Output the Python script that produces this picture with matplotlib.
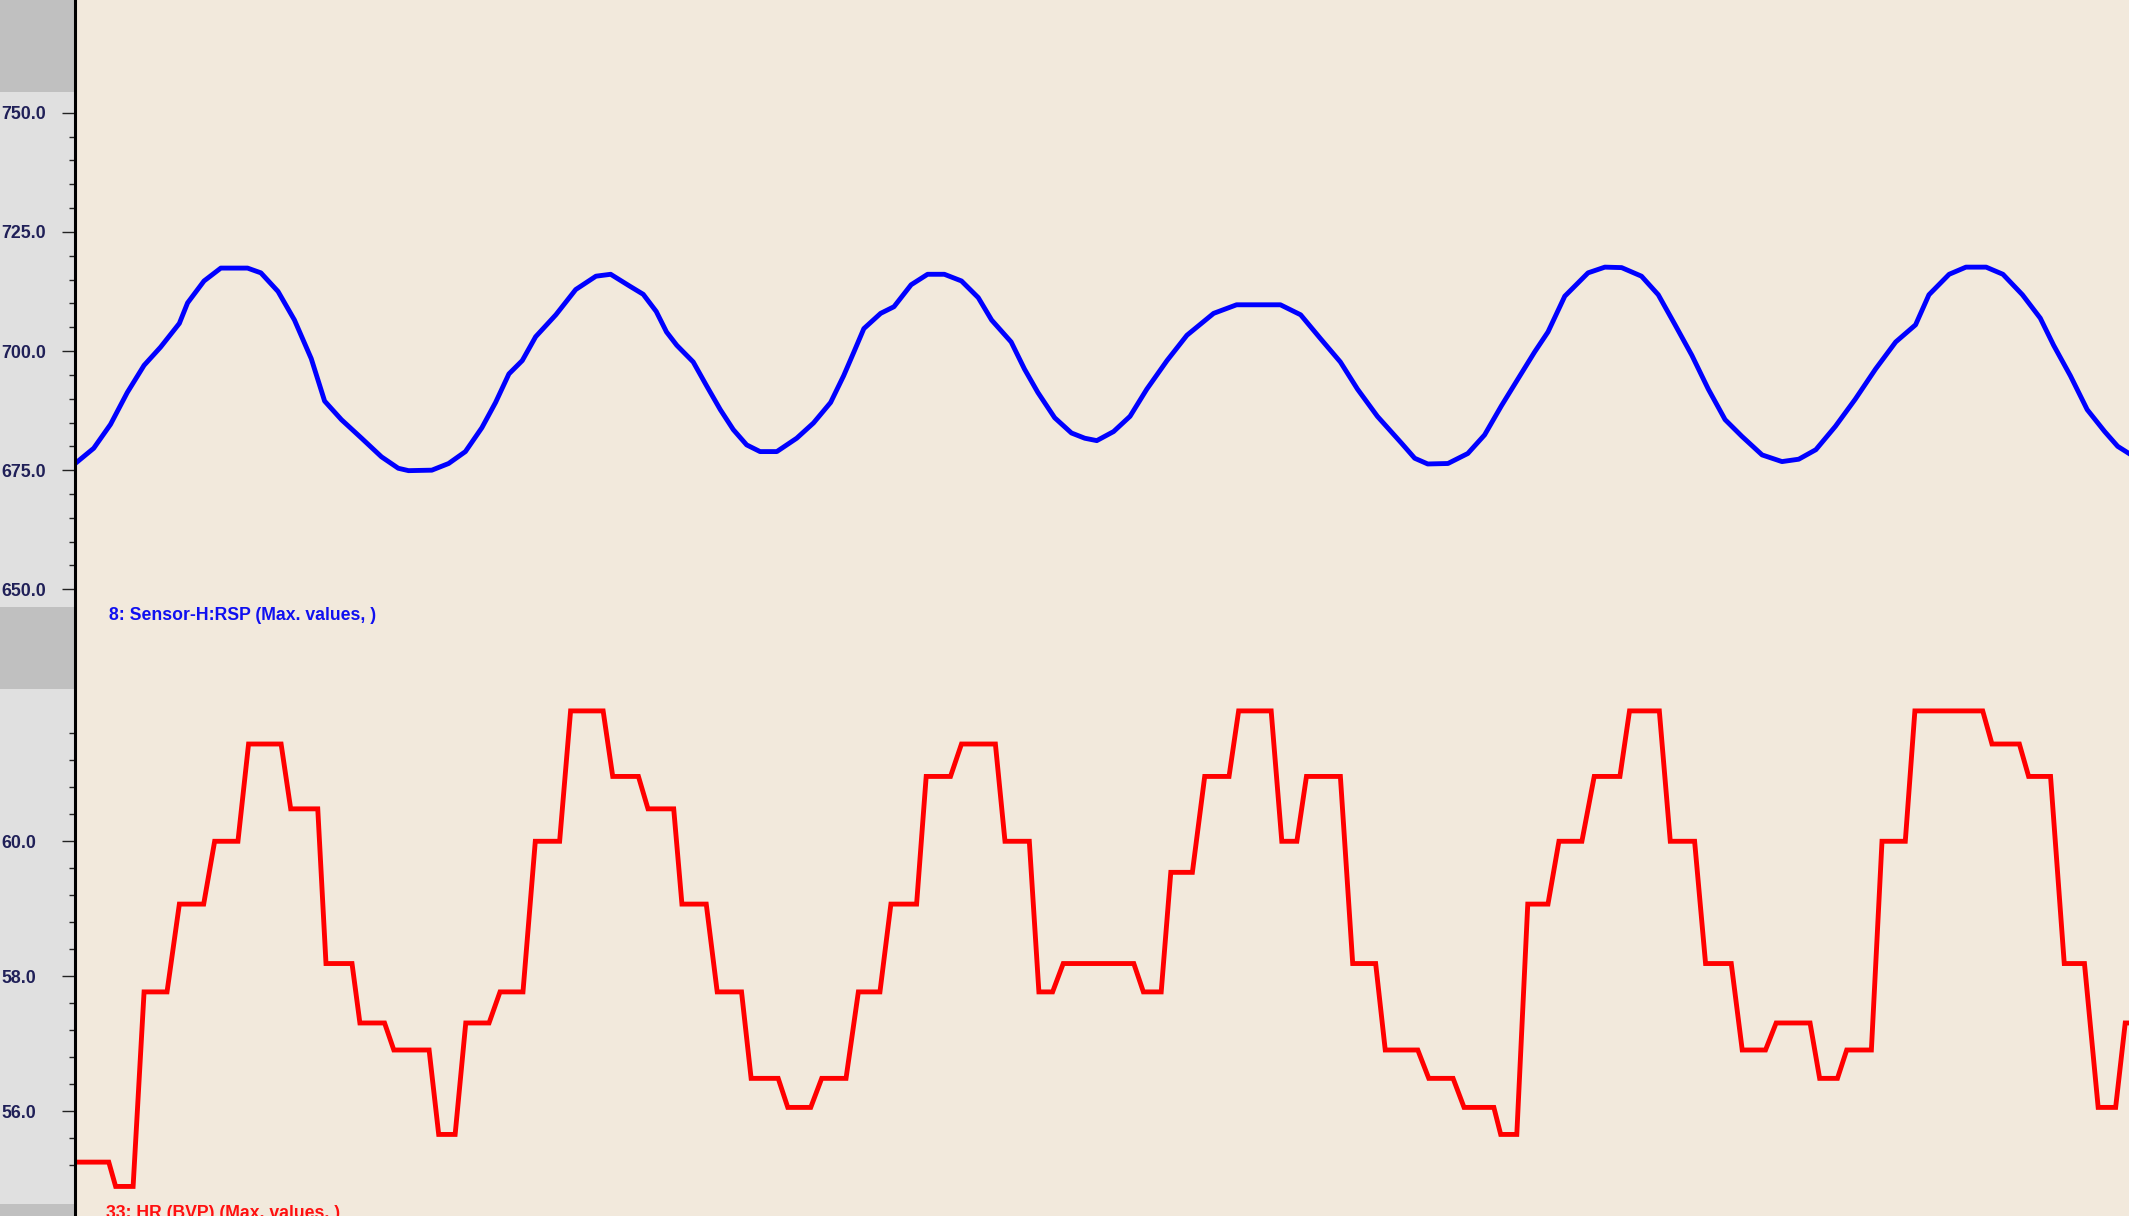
import matplotlib
matplotlib.use("Agg")
import matplotlib.pyplot as plt
import numpy as np
from matplotlib.patches import Rectangle
from matplotlib.lines import Line2D
from matplotlib.transforms import blended_transform_factory

plt.rcParams['font.family'] = ['Liberation Sans', 'DejaVu Sans']

# ---------------- data ----------------
# Respiration sensor (RSP), time in seconds
rsp_t = [0.0, 0.59, 1.08, 1.57, 2.06, 2.54, 3.09, 3.33, 3.81, 4.30,
         5.08, 5.47, 5.97, 6.45, 6.94, 7.33, 7.82, 8.41, 8.99, 9.48,
         9.78, 10.46, 10.95, 11.44, 11.92, 12.32, 12.71, 13.10, 13.49, 14.08,
         14.66, 15.25, 15.68, 16.24, 16.63, 17.01, 17.31, 17.61, 18.09, 18.48,
         18.88, 19.26, 19.65, 20.04, 20.53, 21.11, 21.60, 22.10, 22.48, 22.78,
         23.07, 23.56, 23.95, 24.45, 24.93, 25.42, 25.92, 26.41, 26.80, 27.37,
         27.76, 28.15, 28.64, 29.13, 29.52, 29.87, 30.36, 30.84, 31.33, 31.92,
         32.50, 33.28, 33.95, 35.23, 35.82, 36.40, 36.98, 37.48, 38.06, 38.76,
         39.15, 39.53, 40.12, 40.70, 41.19, 41.68, 42.16, 42.65, 43.04, 43.53,
         44.21, 44.70, 45.19, 45.77, 46.26, 46.75, 47.24, 47.72, 48.21, 48.70,
         49.29, 49.87, 50.36, 50.86, 51.43, 52.01, 52.60, 53.19, 53.77, 54.16,
         54.75, 55.24, 55.83, 56.32, 56.89, 57.41, 57.80, 58.29, 58.78, 59.29,
         59.67, 60.0]
rsp_v = [676.1, 679.6, 684.6, 691.3, 697.0, 700.8, 705.8, 710.1, 714.7, 717.4,
         717.4, 716.4, 712.5, 706.5, 698.4, 689.5, 685.6, 681.7, 677.8, 675.4,
         674.9, 675.0, 676.4, 678.9, 683.9, 689.2, 695.2, 698.0, 703.0, 707.6,
         712.9, 715.7, 716.1, 713.6, 711.9, 708.3, 704.0, 701.2, 697.7, 692.7,
         687.7, 683.5, 680.3, 678.9, 678.9, 681.7, 684.9, 689.2, 694.8, 699.8,
         704.7, 707.9, 709.3, 713.9, 716.1, 716.1, 714.7, 711.2, 706.5, 701.9,
         696.2, 691.3, 686.0, 682.8, 681.7, 681.2, 683.1, 686.3, 692.0, 698.0,
         703.3, 707.9, 709.7, 709.7, 707.6, 702.6, 697.7, 692.0, 686.3, 680.7,
         677.5, 676.3, 676.4, 678.5, 682.4, 688.5, 694.1, 699.8, 704.0, 711.5,
         716.4, 717.6, 717.5, 715.7, 711.8, 705.5, 699.1, 692.0, 685.6, 682.1,
         678.2, 676.8, 677.3, 679.3, 684.2, 689.9, 696.2, 701.9, 705.5, 711.8,
         716.1, 717.6, 717.6, 716.1, 711.8, 706.9, 701.2, 694.8, 687.7, 683.1,
         680.0, 678.5]

# Heart rate (BVP): held levels (start time, end time, value)
hr_start = [0.0, 1.23, 2.06, 3.09, 4.12, 5.11, 6.34, 7.37, 8.36, 9.35,
            10.66, 11.45, 12.45, 13.48, 14.51, 15.74, 16.77, 17.76, 18.79, 19.78,
            20.85, 21.84, 22.91, 23.86, 24.89, 25.92, 27.19, 28.18, 28.89, 31.23,
            32.03, 33.02, 34.01, 35.27, 35.99, 37.34, 38.29, 39.56, 40.59, 41.66,
            42.45, 43.36, 44.39, 45.42, 46.61, 47.64, 48.71, 49.70, 50.97, 51.76,
            52.79, 53.75, 56.00, 57.07, 58.11, 59.10, 59.89]
hr_end = [1.03, 1.74, 2.73, 3.80, 4.80, 6.06, 7.13, 8.13, 9.08, 10.38,
          11.14, 12.13, 13.12, 14.19, 15.46, 16.49, 17.52, 18.47, 19.50, 20.57,
          21.52, 22.55, 23.54, 24.61, 25.60, 26.91, 27.90, 28.58, 30.95, 31.75,
          32.66, 33.73, 34.96, 35.71, 36.98, 38.01, 39.24, 40.27, 41.46, 42.13,
          43.04, 44.03, 45.14, 46.29, 47.32, 48.39, 49.39, 50.69, 51.49, 52.48,
          53.47, 55.73, 56.80, 57.71, 58.70, 59.61, 60.0]
hr_val = [55.25, 54.89, 57.77, 59.07, 60.00, 61.44, 60.48, 58.19, 57.31, 56.91,
          55.66, 57.31, 57.77, 60.00, 61.93, 60.96, 60.48, 59.07, 57.77, 56.49,
          56.06, 56.49, 57.77, 59.07, 60.96, 61.44, 60.00, 57.77, 58.19, 57.77,
          59.54, 60.96, 61.93, 60.00, 60.96, 58.19, 56.91, 56.49, 56.06, 55.66,
          59.07, 60.00, 60.96, 61.93, 60.00, 58.19, 56.91, 57.31, 56.49, 56.91,
          60.00, 61.93, 61.44, 60.96, 58.19, 56.06, 57.31]

rsp_major = [650, 675, 700, 725, 750]
rsp_minor = list(range(650, 751, 5))
hr_major = [56, 58, 60]
hr_minor = [55.2 + 0.4 * i for i in range(17)]
rsp_label = "8: Sensor-H:RSP (Max. values, )"
hr_label = "33: HR (BVP) (Max. values, )"

# ---------------- layout ----------------
W, H = 2129, 1216
BEIGE = '#F2E9DC'
DARK = '#C0C0C0'
LIGHT = '#E0E0E0'
LABEL_C = '#202058'


def fx(px):
    return px / W


def fy(py):
    return 1 - py / H


fig = plt.figure(figsize=(W / 100, H / 100), dpi=100, facecolor=BEIGE)

strip_w = fx(74)
fig.add_artist(Rectangle((0, 0), strip_w, 1, transform=fig.transFigure,
                         facecolor=DARK, edgecolor='none', zorder=-2))
for top, bot in [(91.7, 607), (689.3, 1204)]:
    fig.add_artist(Rectangle((0, fy(bot)), strip_w, fy(top) - fy(bot),
                             transform=fig.transFigure, facecolor=LIGHT,
                             edgecolor='none', zorder=-1))

left = fx(73.5)
ax1 = fig.add_axes([left, fy(607), 1 - left, fy(91.7) - fy(607)])
ax2 = fig.add_axes([left, fy(1204), 1 - left, fy(689.3) - fy(1204)])

# vertical axis line across the full height
fig.add_artist(Line2D([fx(74.7), fx(74.7)], [0, 1], transform=fig.transFigure,
                      color='black', lw=2.2, zorder=5))

for ax in (ax1, ax2):
    ax.set_zorder(2)
    ax.set_facecolor('none')
    for s in ax.spines.values():
        s.set_visible(False)
    ax.set_xlim(0, 60)
    ax.set_xticks([])
    ax.tick_params(axis='y', which='major', length=8.6, width=1.0,
                   color='#222222', direction='out', labelleft=False)
    ax.tick_params(axis='y', which='minor', length=3.8, width=1.0,
                   color='#222222', direction='out')

ax1.set_ylim(646.29, 754.41)
ax1.set_yticks(rsp_major)
ax1.set_yticks(rsp_minor, minor=True)
ax1.tick_params(labelleft=False)

ax2.set_ylim(54.63, 62.25)
ax2.set_yticks(hr_major)
ax2.set_yticks(hr_minor, minor=True)
ax2.tick_params(labelleft=False)

# curves
ax1.plot(rsp_t, rsp_v, color='#0000FF', lw=3.5, solid_joinstyle='round')

hr_t = []
hr_v = []
for s, e, v in zip(hr_start, hr_end, hr_val):
    hr_t += [s, e]
    hr_v += [v, v]
ax2.plot(hr_t, hr_v, color='#FF0000', lw=3.5, solid_joinstyle='miter')

# tick labels (left aligned in the strip)
for ax, majors in ((ax1, rsp_major), (ax2, hr_major)):
    tr = blended_transform_factory(fig.transFigure, ax.transData)
    for v in majors:
        ax.text(fx(1.0), v, f"{v:.1f}", transform=tr, ha='left',
                va='center_baseline', fontsize=12.8, fontweight='bold',
                color=LABEL_C, clip_on=False)

# series labels
fig.text(fx(109), fy(615), rsp_label, ha='left', va='center', fontsize=12.7,
         fontweight='bold', color='#1010F0')
fig.text(fx(106), fy(1218), hr_label, ha='left', va='baseline', fontsize=12.7,
         fontweight='bold', color='#FF1010')

fig.savefig('out.png', dpi=100, facecolor=BEIGE)
